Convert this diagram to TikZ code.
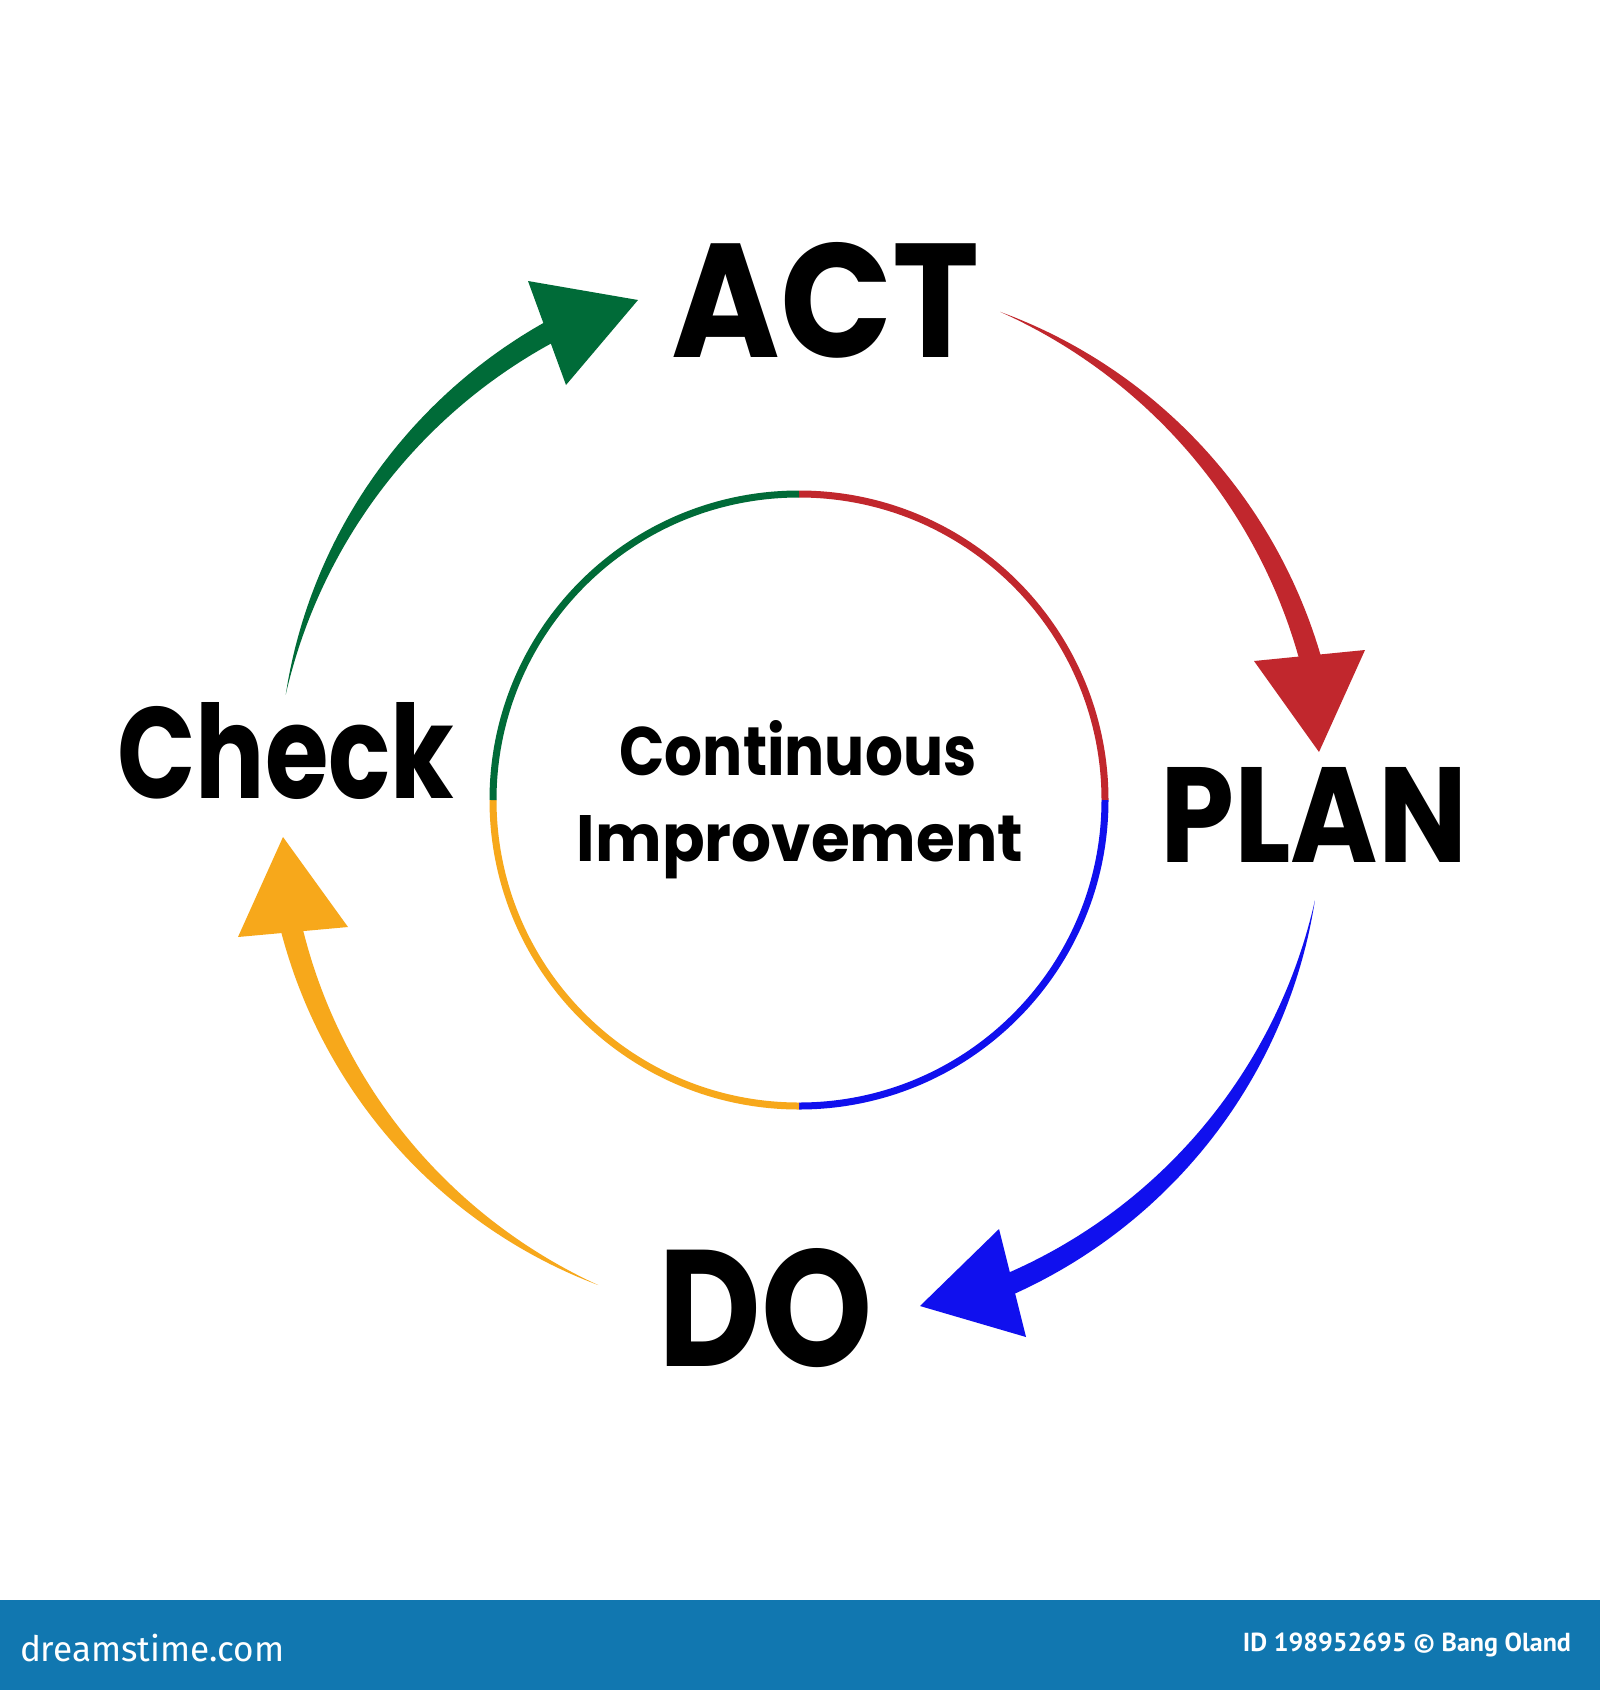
\documentclass[tikz,border=0pt]{standalone}
\usepackage{fontspec}
\newfontfamily\hand{Poppins}
\newfontfamily\footfont{Fira Sans}
\newfontfamily\idfont{PT Sans}
\definecolor{cgreen}{HTML}{006B38}
\definecolor{cred}{HTML}{C1272D}
\definecolor{cblue}{HTML}{1010EE}
\definecolor{corange}{HTML}{F7A81B}
\definecolor{footblue}{HTML}{1177B0}
% tapered arc: colour, start angle, end angle, radius at start, radius at end
\newcommand\tarrow[5]{%
  \fill[#1] plot[domain=#2:#3,samples=70,variable=\t]
    (\t:{#4+(#5-#4)*((\t-(#2))/((#3)-(#2))) + 11*tap((\t-(#2))/((#3)-(#2)))})
    -- plot[domain=#3:#2,samples=70,variable=\t]
    (\t:{#4+(#5-#4)*((\t-(#2))/((#3)-(#2))) - 11*tap((\t-(#2))/((#3)-(#2)))})
    -- cycle;}
\begin{document}
\begin{tikzpicture}[x=1pt,y=-1pt,
  declare function={tap(\s)=\s*(1.6-0.6*\s);},
  lbl/.style={inner sep=0pt,outer sep=0pt,text=black,anchor=base},
  ring/.style={line width=7pt,line cap=butt}]
\useasboundingbox (0,0) rectangle (1600,1690);
\fill[white] (0,0) rectangle (1600,1690);
\coordinate (C) at (799,800);

% inner ring
\draw[ring,cred]    (C) ++(-90:306) arc[start angle=-90,end angle=0,radius=306];
\draw[ring,cblue]   (C) ++(0:306)   arc[start angle=0,end angle=90,radius=306];
\draw[ring,corange] (C) ++(90:306)  arc[start angle=90,end angle=180,radius=306];
\draw[ring,cgreen]  (C) ++(180:306) arc[start angle=180,end angle=270,radius=306];

% outer tapered arrows
\begin{scope}[shift={(C)}]
  \tarrow{cgreen}{-168.4}{-116.4}{524}{530.6}
  \tarrow{cred}{-67.6}{-13.8}{528}{530.6}
  \tarrow{cblue}{11.0}{68.2}{525.6}{528}
  \tarrow{corange}{112.5}{167.3}{525}{523.5}
\end{scope}

% arrow heads
\coordinate (gA) at (528,281); \coordinate (gT) at (638,300); \coordinate (gB) at (566,385);
\coordinate (rA) at (1254,661); \coordinate (rT) at (1319,752); \coordinate (rB) at (1365,650);
\coordinate (bA) at (999,1229); \coordinate (bT) at (920,1306); \coordinate (bB) at (1026,1337);
\coordinate (oA) at (238,937); \coordinate (oT) at (283,837); \coordinate (oB) at (348,927);
\fill[cgreen]  (gA) -- (gT) -- (gB) -- cycle;
\fill[cred]    (rA) -- (rT) -- (rB) -- cycle;
\fill[cblue]   (bA) -- (bT) -- (bB) -- cycle;
\fill[corange] (oA) -- (oT) -- (oB) -- cycle;

% labels
\node[lbl] (act)   at (826,357)  {\resizebox{308pt}{115pt}{\hand\bfseries ACT}};
\node[lbl] (plan)  at (1314,862) {\resizebox{307pt}{95pt}{\hand\bfseries PLAN}};
\node[lbl] (do)    at (766,1366) {\resizebox{214pt}{118pt}{\hand\bfseries DO}};
\node[lbl] (check) at (286,798)  {\resizebox{337pt}{96pt}{\hand\bfseries Check}};
\node[lbl] (cont)  at (798,775)  {\resizebox{357pt}{55pt}{\hand\bfseries Continuous}};
\node[lbl] (impr)  at (800,861)  {\resizebox{446pt}{46pt}{\hand\bfseries Improvement}};

% footer
\fill[footblue] (0,1600) rectangle (1600,1690);
\node[lbl,text=white,anchor=west] (logo) at (20,1648) {\resizebox{264pt}{!}{\footfont dreamstime.com}};
\node[lbl,text=white,anchor=east] (id) at (1571,1645) {\resizebox{328pt}{!}{\idfont\bfseries ID 198952695 © Bang Oland}};
\end{tikzpicture}
\end{document}
